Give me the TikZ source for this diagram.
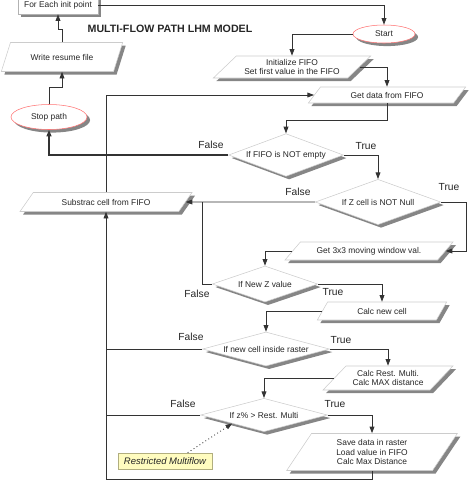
\documentclass[tikz,border=0pt]{standalone}
\usepackage{fontspec}
\setmainfont{Liberation Sans}
\usetikzlibrary{shapes.geometric,shadows,arrows.meta}

\begin{document}
\begin{tikzpicture}[x=0.75pt, y=-0.75pt,
  font=\fontsize{6.3}{7}\selectfont, text=black!85,
  dropsh/.style={drop shadow={shadow xshift=2.3pt, shadow yshift=-2.3pt, fill=gray!95, opacity=1}},
  io/.style={trapezium, trapezium left angle=#1, trapezium right angle={180-#1},
    trapezium stretches body=true, draw=gray!40, fill=white, dropsh, inner sep=0pt, align=center},
  decision/.style={diamond, aspect=4, inner sep=0pt, draw=gray!40, fill=white, dropsh},
  terminal/.style={ellipse, draw=red!55, fill=white, dropsh, inner sep=0pt},
  memo/.style={draw=olive!40!gray!70, fill=yellow!25, inner sep=1pt,
    minimum width=70.5pt, minimum height=12pt, font=\itshape\fontsize{7.1}{8}\selectfont},
  lbl/.style={font=\fontsize{7.7}{8}\selectfont},
  conn/.style={draw=black!80, line width=0.65pt},
  arr/.style={-{Triangle[length=5pt,width=3.6pt]}}]
\useasboundingbox (0,0) rectangle (474,480);

% boxes
\node[draw=gray!60, fill=white, dropsh, minimum width=60pt, minimum height=13.5pt, inner sep=0pt] (each) at (58,5) {For Each init point};
\node[font=\bfseries\fontsize{8}{9}\selectfont] (title) at (170,29) {MULTI-FLOW PATH LHM MODEL};
\node[terminal, minimum width=46.5pt, minimum height=13.5pt] (start) at (384,34) {Start};
\node[io=34, minimum width=118pt, minimum height=16.5pt] (init) at (292,67) {Initialize FIFO\\Set first value in the FIFO};
\node[io=27, minimum width=118pt, minimum height=12pt] (get) at (387,95) {Get data from FIFO};
\node[decision, minimum width=86pt, minimum height=32pt] (fifo) at (286,155) {If FIFO is NOT empty};
\node[decision, minimum width=94pt, minimum height=34pt] (zcell) at (378,202) {If Z cell is NOT Null};
\node[io=27, minimum width=126pt, minimum height=13.5pt] (win) at (369,251) {Get 3x3 moving window val.};
\node[decision, minimum width=79pt, minimum height=27pt] (newz) at (265,284) {If New Z value};
\node[io=31, minimum width=97pt, minimum height=13.5pt] (calc) at (382,311) {Calc new cell};
\node[decision, minimum width=95pt, minimum height=25.5pt] (inr) at (266,349) {If new cell inside raster};
\node[io=34, minimum width=97.5pt, minimum height=18pt] (rest) at (388,378) {Calc Rest. Multi.\\Calc MAX distance};
\node[decision, minimum width=95pt, minimum height=25pt] (zp) at (264,415) {If z\% > Rest. Multi};
\node[io=45, minimum width=128pt, minimum height=27.75pt] (save) at (372,452) {Save data in raster\\Load value in FIFO\\Calc Max Distance};
\node[io=25, minimum width=129pt, minimum height=14.25pt] (subs) at (106,202) {Substrac cell from FIFO};
\node[terminal, minimum width=57pt, minimum height=18.75pt] (stop) at (49,117) {Stop path};
\node[io=34, minimum width=91pt, minimum height=21.75pt] (write) at (62,57) {Write resume file};
\node[memo] (restr) at (165,461) {Restricted Multiflow};

% branch labels
\node[lbl] (f1) at (211,145) {False};
\node[lbl] (t1) at (366,146) {True};
\node[lbl] (f2) at (298,192) {False};
\node[lbl] (t2) at (449,187) {True};
\node[lbl] (f3) at (197,294) {False};
\node[lbl] (t3) at (333,292) {True};
\node[lbl] (f4) at (191,337) {False};
\node[lbl] (t4) at (341,340) {True};
\node[lbl] (f5) at (183,404) {False};
\node[lbl] (t5) at (335,404) {True};

\coordinate (j1) at (202,202);
\coordinate (j2) at (subs.south |- inr.west);
\coordinate (j3) at (subs.south |- zp.west);

% flow
\draw[conn, arr] (each.east) -| (start.north);
\draw[conn, arr] (start.west) -| (init.north);
\draw[conn, arr] (init.east) -| (get.north);
\draw[conn, arr] (get.south) -- ++(0,17) -| (fifo.north);
\draw[conn, arr, line width=1.4pt] (fifo.west) -| (stop.south);
\draw[conn, arr] (fifo.east) -| (zcell.north);
\draw[conn, arr] (zcell.east) -- ++(26,0) |- (win.east);
\draw[conn, arr] (zcell.west) -- (subs.east);
\draw[conn, arr] (win.west) -| (newz.north);
\draw[conn] (newz.west) -| (j1);
\draw[conn, arr] (newz.east) -| (calc.north);
\draw[conn, arr] (calc.west) -| (inr.north);
\draw[conn] (inr.west) -- (j2);
\draw[conn, arr] (inr.east) -| (rest.north);
\draw[conn, arr] (rest.west) -| (zp.north);
\draw[conn] (zp.west) -- (j3);
\draw[conn, arr] (zp.east) -| (save.north);
\draw[conn, arr] (save.south) -- ++(0,9) -| (subs.south);
\draw[conn, arr] (subs.north) |- (get.west);
\draw[conn, arr] (stop.north) -- ++(0,-17) -| (write.south);
\draw[conn, arr] (write.north) -- ++(0,-13) -| (each.south);
\draw[conn, dotted, arr] (restr.20) -- (zp.south west);
\end{tikzpicture}
\end{document}
